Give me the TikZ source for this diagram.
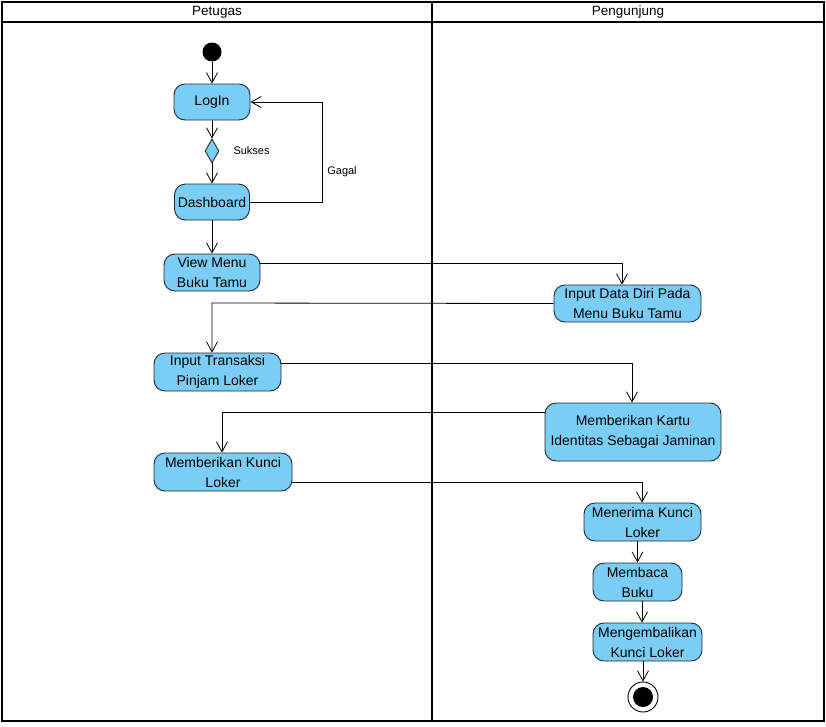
\documentclass[tikz,border=0pt]{standalone}
\usepackage{fontspec}
\setmainfont{Liberation Sans}
\usetikzlibrary{arrows.meta,shapes.geometric}
\definecolor{actfill}{RGB}{122,206,245}
\definecolor{actline}{RGB}{30,40,50}
\tikzset{
  act/.style={draw=actline, fill=actfill, rounded corners=11pt, line width=0.9pt, align=center,
    inner sep=0pt, font=\fontsize{14}{20}\selectfont},
  arr/.style={-{Straight Barb[length=10pt,width=11pt]}, line width=0.8pt},
  lane/.style={line width=1.8pt},
  lbl/.style={font=\fontsize{11}{13}\selectfont},
  hdr/.style={font=\fontsize{13.5}{15}\selectfont}
}
\begin{document}
\begin{tikzpicture}[x=1pt,y=-1pt]
\useasboundingbox (0,0) rectangle (826,726);
% swimlanes
\draw[lane] (2,2) rectangle (824,721);
\draw[lane] (2,22) -- (824,22);
\draw[lane] (432,2) -- (432,721);
\node[hdr] (h1) at (217,12) {Petugas};
\node[hdr] (h2) at (628,12) {Pengunjung};

% nodes
\node[circle, fill=black, minimum size=19pt, inner sep=0pt] (start) at (212,52) {};
\node[act, minimum width=76pt, minimum height=36pt] (login) at (212,102) {LogIn};
\node[diamond, draw=actline, fill=actfill, line width=0.9pt, minimum width=14pt, minimum height=24pt, inner sep=0pt, aspect=0.58] (dec) at (212,151) {};
\node[lbl, anchor=west] (sukses) at (230,151) {Sukses};
\node[act, minimum width=75pt, minimum height=36pt] (dash) at (212,202) {Dashboard};
\node[lbl] (gagal) at (342,172) {Gagal};
\node[act, minimum width=96pt, minimum height=37pt] (view) at (212,272.5) {View Menu\\Buku Tamu};
\node[act, minimum width=147pt, minimum height=37pt] (input) at (627.5,303.5) {Input Data Diri Pada\\Menu Buku Tamu};
\node[act, minimum width=127pt, minimum height=38pt] (trans) at (217.5,372) {Input Transaksi\\Pinjam Loker};
\node[act, minimum width=176pt, minimum height=58pt] (kartu) at (633,432) {Memberikan Kartu\\Identitas Sebagai Jaminan};
\node[act, minimum width=138pt, minimum height=38pt] (kunci) at (223,472) {Memberikan Kunci\\Loker};
\node[act, minimum width=117pt, minimum height=38pt] (terima) at (642.5,522) {Menerima Kunci\\Loker};
\node[act, minimum width=89pt, minimum height=38pt] (baca) at (637.5,582) {Membaca\\Buku};
\node[act, minimum width=109pt, minimum height=38pt] (kembali) at (647.5,642) {Mengembalikan\\Kunci Loker};
\node[circle, draw=black, fill=white, line width=0.9pt, minimum size=30pt, inner sep=0pt] (end) at (643,697) {};
\node[circle, fill=black, minimum size=20pt, inner sep=0pt] (endin) at (643,697) {};

% coordinates for bends
\coordinate (g1) at (322,202);
\coordinate (g2) at (322,102);
\coordinate (c1) at (622,263);
\coordinate (c2) at (212,303);
\coordinate (c3) at (632,363);
\coordinate (c4) at (222,412);
\coordinate (c5) at (642,482);

% connectors
\draw[arr] (start) -- (login);
\draw[arr] (login) -- (dec);
\draw[arr] (dec) -- (dash);
\draw[arr] (dash.east) -- (g1) -- (g2) -- (login.east);
\draw[arr] (dash) -- (view);
\draw[arr] (view.east |- c1) -- (c1) -- (c1 |- input.north);
\draw[arr] (input.west) -- (c2) -- (c2 |- trans.north);
\draw[arr] (trans.east |- c3) -- (c3) -- (c3 |- kartu.north);
\draw[arr] (kartu.west |- c4) -- (c4) -- (c4 |- kunci.north);
\draw[arr] (kunci.east |- c5) -- (c5) -- (c5 |- terima.north);
\draw[arr] (baca.north |- terima.south) -- (baca.north);
\draw[arr] (baca.south -| 642,0) -- (kembali.north -| 642,0);
\draw[arr] (kembali.south -| end) -- (end);
\end{tikzpicture}
\end{document}
